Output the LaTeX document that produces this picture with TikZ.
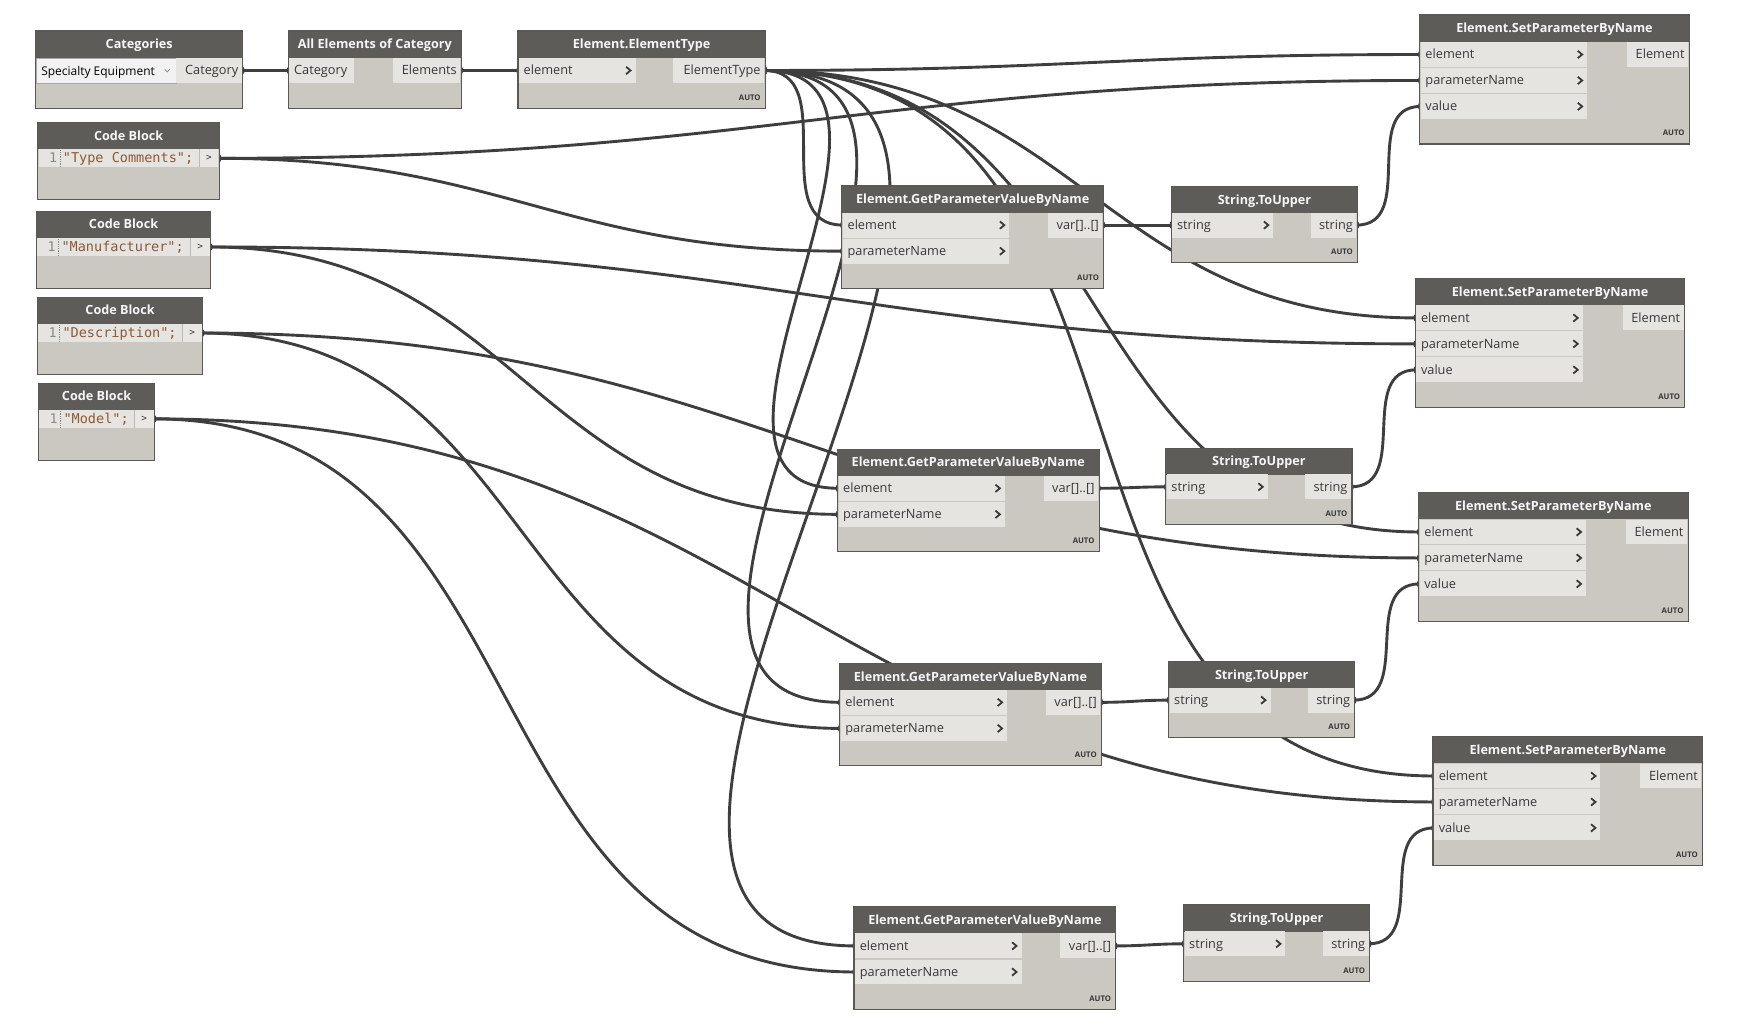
\documentclass[tikz,border=0pt]{standalone}
\usepackage{fontspec}
\setmainfont{Open Sans}
\newfontfamily\codefont{DejaVu Sans Mono}
\usetikzlibrary{calc}
\pgfdeclarelayer{bg}
\pgfdeclarelayer{wires}
\pgfsetlayers{bg,wires,main}
\definecolor{headc}{HTML}{5E5C59}
\definecolor{bodyc}{HTML}{CBC7C1}
\definecolor{portc}{HTML}{E6E4E0}
\definecolor{borderc}{HTML}{5A5855}
\definecolor{txtc}{HTML}{383838}
\definecolor{wirec}{HTML}{3E3E3E}
\definecolor{codec}{HTML}{8C5A36}
\definecolor{lnc}{HTML}{8A8A8A}
\definecolor{ddc}{HTML}{F2F2F2}
\definecolor{ddb}{HTML}{A8A8A8}
\definecolor{cbo}{HTML}{E9E7E3}
\definecolor{cbsep}{HTML}{BDBAB5}
\definecolor{headtxt}{HTML}{F6F6F6}
\tikzset{
 bodybox/.style={anchor=north west, fill=bodyc, inner sep=0pt, outer sep=0pt},
 headbox/.style={anchor=north west, fill=headc, inner sep=0pt, outer sep=0pt, minimum height=24pt, text=headtxt, text height=8pt, text depth=0pt, font=\fontsize{11.4}{13}\selectfont\bfseries},
 portrow/.style={anchor=north west, fill=portc, inner sep=0pt, outer sep=0pt, minimum height=22.5pt},
 outrow/.style={anchor=north east, fill=portc, inner sep=0pt, outer sep=0pt, minimum height=22.5pt},
 ptext/.style={inner sep=0pt, text=txtc, text height=8pt, text depth=0pt, font=\fontsize{11.5}{13}\selectfont},
 chev/.style={draw=txtc, line width=1.6pt},
 autotext/.style={anchor=south east, inner sep=0pt, text=txtc, text height=5.2pt, text depth=0pt, font=\fontsize{7}{8}\selectfont\bfseries},
 wire/.style={draw=wirec, line width=2.6pt},
}
\newcommand{\dbox}[6]{%
  \node[bodybox, minimum width=#4pt, minimum height=#5pt] (#1) at (#2,#3) {};
  \node[headbox, minimum width=#4pt] (#1-head) at (#2,#3) {#6};
  \draw[borderc, line width=1pt] (#1.north west) rectangle (#1.south east);
}
\newcommand{\inport}[6]{%
  \node[portrow, minimum width=#4pt] (#1) at (#2,#3) {};
  \node[ptext, anchor=west] at ([xshift=4pt]#1.west) {#5};
  \ifnum#6=1 \draw[chev] ([xshift=-8.5pt,yshift=3.3pt]#1.east) -- ([xshift=-4.5pt]#1.east) -- ([xshift=-8.5pt,yshift=-3.3pt]#1.east);\fi
}
\newcommand{\outport}[5]{%
  \node[outrow, minimum width=#4pt] (#1) at (#2,#3) {};
  \node[ptext, anchor=east] at ([xshift=-3pt]#1.east) {#5};
}
\newcommand{\autolabel}[1]{\node[autotext] at ([xshift=-4pt,yshift=7pt]#1.south east) {AUTO};}
\newcommand{\cblock}[5]{%
  \dbox{#1}{#2}{#3}{#4}{69.5}{Code Block}
  \fill[portc] (#2+1,#3+24) rectangle (#2+#4-18,#3+40.5);
  \node[anchor=north east, fill=cbo, inner sep=0pt, outer sep=0pt, minimum width=17pt, minimum height=16.5pt] (#1-out) at (#2+#4-1,#3+24) {};
  \draw[cbsep, line width=0.7pt] (#1-out.north west) -- (#1-out.south west);
  \node[inner sep=0pt, font=\codefont\fontsize{8.5}{9}\selectfont, text=txtc] at (#1-out) {>};
  \node[anchor=base, inner sep=0pt, text=lnc, font=\codefont\fontsize{12}{13}\selectfont] at (#2+13.8,#3+36) {1};
  \draw[lnc, line width=0.5pt, dash pattern=on 0.6pt off 1pt] (#2+20,#3+25) -- (#2+20,#3+40);
  \node[anchor=base west, inner sep=0pt, text=codec, font=\codefont\fontsize{12.2}{13}\selectfont] at (#2+22.5,#3+36) {#5};
}
\newcommand{\gnode}[3]{%
  \dbox{#1}{#2}{#3}{236}{92.5}{Element.GetParameterValueByName}
  \inport{#1-element}{#2+1}{#3+24}{150}{element}{1}
  \inport{#1-pname}{#2+1}{#3+47.5}{150}{parameterName}{1}
  \outport{#1-out}{#2+235}{#3+24}{49}{var[]..[]}
  \autolabel{#1}
}
\newcommand{\snode}[3]{%
  \dbox{#1}{#2}{#3}{168}{69}{String.ToUpper}
  \inport{#1-in}{#2+1}{#3+23.7}{91}{string}{1}
  \outport{#1-out}{#2+167}{#3+23.7}{41}{string}
  \autolabel{#1}
}
\newcommand{\pnode}[3]{%
  \dbox{#1}{#2}{#3}{243}{116.3}{Element.SetParameterByName}
  \inport{#1-element}{#2+1}{#3+24.4}{150}{element}{1}
  \inport{#1-pname}{#2+1}{#3+47.8}{150}{parameterName}{1}
  \inport{#1-value}{#2+1}{#3+71.2}{150}{value}{1}
  \outport{#1-out}{#2+242}{#3+24.4}{55}{Element}
  \autolabel{#1}
}
\begin{document}
\begin{tikzpicture}[x=1pt,y=-1pt]
\useasboundingbox (0,0) rectangle (1567,925);
\begin{pgfonlayer}{bg}
\fill[white] (0,0) rectangle (1567,925);
\end{pgfonlayer}

% Categories
\dbox{cat}{32}{28}{187}{69.5}{Categories}
\node[anchor=north west, fill=ddc, draw=ddb, line width=0.6pt, inner sep=0pt, outer sep=0pt, minimum width=126pt, minimum height=23pt] (cat-dd) at (33,52.3) {};
\node[ptext, text=black, font=\fontsize{10.8}{12}\selectfont, anchor=west] at ([xshift=4pt]cat-dd.west) {Specialty Equipment};
\draw[lnc, line width=0.7pt] (148.5,62.5) -- (150.8,64.8) -- (153.1,62.5);
\outport{cat-out}{218}{52.3}{59}{Category}

% All Elements of Category
\dbox{ae}{260}{28}{156}{69.5}{All Elements of Category}
\inport{ae-in}{261}{52.3}{58}{Category}{0}
\outport{ae-out}{415}{52.3}{61}{Elements}

% Element.ElementType
\dbox{et}{467}{28}{223}{69.5}{Element.ElementType}
\inport{et-in}{468}{52.3}{105}{element}{1}
\outport{et-out}{689}{52.3}{82}{ElementType}
\autolabel{et}

% Code blocks
\cblock{cb1}{34}{110.5}{164}{"Type Comments";}
\cblock{cb2}{32.8}{190.4}{157.2}{"Manufacturer";}
\cblock{cb3}{33.7}{268}{149.1}{"Description";}
\cblock{cb4}{34.6}{345.4}{104.9}{"Model";}

% GetParameterValueByName
\gnode{g1}{759}{167.7}
\gnode{g2}{755}{405}
\gnode{g3}{757}{598}
\gnode{g4}{770}{817.6}

% String.ToUpper
\snode{s1}{1056}{168}
\snode{s2}{1051}{404}
\snode{s3}{1053.5}{596.3}
\snode{s4}{1067}{816}

% SetParameterByName
\pnode{p1}{1280}{13.5}
\pnode{p2}{1276}{251}
\pnode{p3}{1279}{444}
\pnode{p4}{1292}{664}

\begin{pgfonlayer}{wires}
\foreach \a/\b in {cat-out/ae-in, ae-out/et-in,
  et-out/p1-element, et-out/p2-element, et-out/p3-element, et-out/p4-element,
  et-out/g1-element, et-out/g2-element, et-out/g3-element, et-out/g4-element,
  cb1-out/p1-pname, cb1-out/g1-pname, cb2-out/p2-pname, cb2-out/g2-pname,
  cb3-out/p3-pname, cb3-out/g3-pname, cb4-out/p4-pname, cb4-out/g4-pname,
  g1-out/s1-in, g2-out/s2-in, g3-out/s3-in, g4-out/s4-in,
  s1-out/p1-value, s2-out/p2-value, s3-out/p3-value, s4-out/p4-value}{
  \draw[wire] let \p1=(\a.east), \p2=(\b.west),
    \n1={9*sqrt(((\x2-\x1)/20)^2+((\y2-\y1)/20)^2)} in
    (\p1) .. controls (\x1+\n1,\y1) and (\x2-\n1,\y2) .. (\p2);
  \fill[wirec] (\a.east) ellipse (2.7pt and 3.7pt);
  \fill[wirec] (\b.west) ellipse (2.7pt and 3.7pt);
}
\end{pgfonlayer}
\end{tikzpicture}
\end{document}
